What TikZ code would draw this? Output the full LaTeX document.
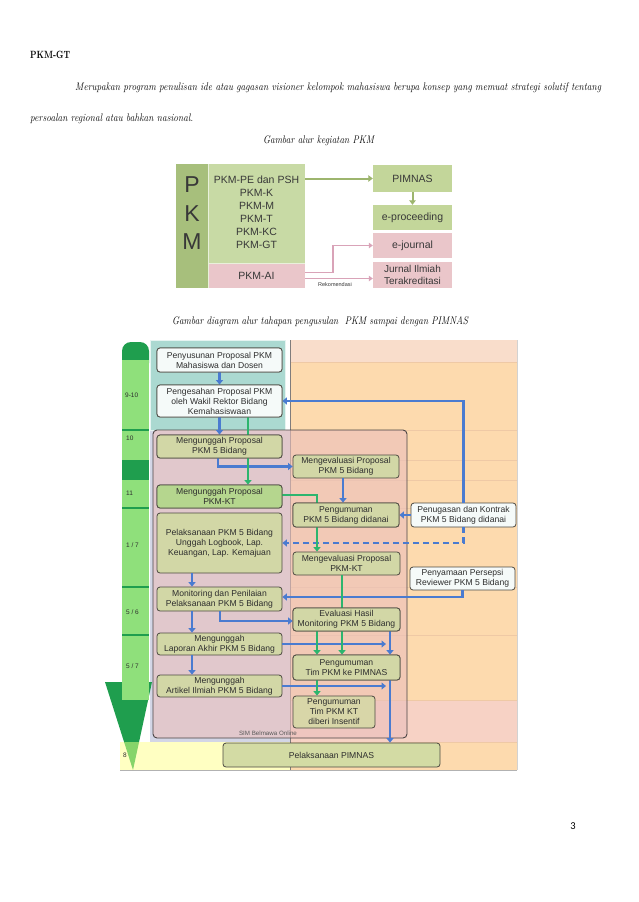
\documentclass[tikz,border=0pt]{standalone}
\usepackage{graphicx}
\usepackage{fontspec}
\newfontfamily\dfont{Liberation Sans}
\newfontfamily\pgfont{Carlito}
\usetikzlibrary{arrows.meta}
\definecolor{f1dark}{HTML}{A7BF7C}
\definecolor{f1light}{HTML}{C8DAA5}
\definecolor{f1pink}{HTML}{EAC6CA}
\definecolor{f1box}{HTML}{C3D69A}
\definecolor{f1arrow}{HTML}{9DB56E}
\definecolor{f1parrow}{HTML}{D9A3B8}
\definecolor{ftext}{HTML}{383838}
\definecolor{arrblue}{HTML}{4A7BD0}
\definecolor{arrgreen}{HTML}{2DB56E}
\definecolor{tangreen}{HTML}{D2D7A6}
\definecolor{brightgreen}{HTML}{B5D68E}
\definecolor{whitebox}{HTML}{F5FAF9}
\definecolor{nodeborder}{HTML}{4D4A42}
\definecolor{ltgreen}{HTML}{8FE07B}
\definecolor{dkgreen}{HTML}{1F9E4E}
\definecolor{midgreen}{HTML}{86D46A}
\definecolor{tealbg}{HTML}{ABD9D1}
\definecolor{lavbg}{HTML}{D3D6E6}
\definecolor{orangebg}{HTML}{FDDAAE}
\definecolor{salmonbg}{HTML}{F9DDCB}
\definecolor{pinkband}{HTML}{F7D2C5}
\definecolor{yellowbg}{HTML}{FFFFC2}
\definecolor{contfill}{HTML}{EBBFBC}
\definecolor{contborder}{HTML}{4A4444}
\definecolor{ntext}{HTML}{2E2E2E}
\definecolor{n16fill}{HTML}{D8D6A8}
\definecolor{n17fill}{HTML}{D3DBA4}
\definecolor{bandline}{HTML}{EFC9A5}
\tikzset{
  nbox/.style={draw=nodeborder, line width=0.8pt, rounded corners=3pt, inner sep=0pt,
    align=center, text=ntext, font=\dfont\fontsize{8.6}{10}\selectfont},
  wbox/.style={nbox, fill=whitebox},
  gbox/.style={nbox, fill=tangreen},
  barrow/.style={draw=arrblue, line width=2.2pt, -{Triangle[length=4.5pt,width=7pt]}},
  garrow/.style={draw=arrgreen, line width=2.2pt, -{Triangle[length=4.5pt,width=7pt]}},
  tlabel/.style={anchor=west, inner sep=0pt, text=ntext, font=\dfont\fontsize{6.5}{8}\selectfont},
  f1txt/.style={inner sep=0pt, text=ftext, align=center, font=\dfont\fontsize{10.5}{13}\selectfont},
  f1rbox/.style={f1txt, minimum width=79pt},
  f1garrow/.style={draw=f1arrow, line width=2pt, -{Triangle[length=4.5pt,width=6.5pt]}},
  f1parrow/.style={draw=f1parrow, line width=1.5pt, -{Triangle[length=4pt,width=5.5pt]}},
  bodytxt/.style={inner sep=0pt, anchor=base west, font=\fontsize{11}{13}\selectfont\itshape}
}
\begin{document}
\begin{tikzpicture}[x=1pt,y=-1pt]
\useasboundingbox (0,0) rectangle (638,902);
\fill[white] (0,0) rectangle (638,902);

% ---------------- text of the page
\node[inner sep=0pt, anchor=base west] (t0) at (30,59) {\resizebox{40pt}{\height}{\fontsize{10.5}{12}\selectfont\bfseries PKM-GT}};
\node[bodytxt] (t1) at (75,90) {\resizebox{526pt}{\height}{Merupakan program penulisan ide atau gagasan visioner kelompok mahasiswa berupa konsep yang memuat strategi solutif tentang}};
\node[bodytxt] (t2) at (30,121) {\resizebox{163pt}{\height}{persoalan regional atau bahkan nasional.}};
\node[bodytxt, anchor=base] (c1) at (318.5,143) {\resizebox{111pt}{\height}{Gambar alur kegiatan PKM}};
\node[bodytxt, anchor=base] (c2) at (320,324) {\resizebox{296pt}{\height}{Gambar diagram alur tahapan pengusulan\ \ PKM sampai dengan PIMNAS}};
\node[inner sep=0pt] (pg) at (573,826) {\pgfont\fontsize{10.5}{12}\selectfont 3};

% ---------------- figure 1
\node[fill=f1dark, minimum width=32pt, minimum height=124pt, inner sep=0pt] (fcol) at (192,226) {};
\node[fill=f1light, minimum width=97pt, minimum height=99pt, inner sep=0pt] (flistbox) at (256.5,213.5) {};
\node[fill=f1pink, minimum width=97pt, minimum height=25pt, inner sep=0pt, f1txt] (fai) at (256.5,275.5) {PKM-AI};
\draw[white!60!f1light, line width=0.7pt] (208,164) -- (208,288) (208,263) -- (305,263);
\node[f1txt, font=\dfont\fontsize{23}{24}\selectfont] (fP) at (192,185) {P};
\node[f1txt, font=\dfont\fontsize{23}{24}\selectfont] (fK) at (192,214) {K};
\node[f1txt, font=\dfont\fontsize{23}{24}\selectfont] (fM) at (192,242) {M};
\node[f1txt] (flist) at (256.5,212.5) {PKM-PE dan PSH\\PKM-K\\PKM-M\\PKM-T\\PKM-KC\\PKM-GT};
\node[f1rbox, fill=f1box, minimum height=27pt] (fpim) at (412.5,178.5) {PIMNAS};
\node[f1rbox, fill=f1box, minimum height=25pt] (fepr) at (412.5,217.5) {e-proceeding};
\node[f1rbox, fill=f1pink, minimum height=25pt] (fejn) at (412.5,245.5) {e-journal};
\node[f1rbox, fill=f1pink, minimum height=26pt, font=\dfont\fontsize{10}{11.5}\selectfont] (fjur) at (412.5,275) {Jurnal Ilmiah\\Terakreditasi};
\draw[f1garrow] (flistbox.east |- fpim.west) -- (fpim.west);
\draw[f1garrow] (fpim.south) -- (fepr.north);
\draw[f1parrow] ([yshift=3pt]fai.east) -| ([xshift=-40pt]fejn.west) -- (fejn.west);
\draw[f1parrow] ([yshift=-3pt]fai.east) -- ([yshift=-3pt]fai.east -| fjur.west);
\node[inner sep=0pt, text=ftext, font=\dfont\fontsize{5.5}{6}\selectfont] (frek) at (335,284.5) {Rekomendasi};

% ---------------- figure 2 backgrounds
\fill[orangebg] (290,340) rectangle (517,770);
\fill[salmonbg] (290,340) rectangle (517,362);
\fill[pinkband] (290,700) rectangle (517,742);
\foreach \yy in {362,430,460,480,508,587,635,700,742}
  \draw[bandline, line width=0.5pt] (290,\yy) -- (517,\yy);
\fill[lavbg] (150,430) rectangle (290,742);
\fill[tealbg] (150,340) rectangle (285,430);
\draw[white!70!tealbg, line width=0.6pt] (150,340) rectangle (285,430);
\fill[yellowbg] (120,742) rectangle (290,770);
\draw[contborder!70, line width=0.7pt] (290,340) -- (290,770);
\draw[gray!60, line width=0.6pt] (120,770) -- (517,770);
\draw[gray!35, line width=0.6pt] (517,340) -- (517,770);

% timeline
\begin{scope}
  \clip (0,600) rectangle (300,742);
  \fill[dkgreen] (105,682) -- (152,682) -- (133,770) -- cycle;
\end{scope}
\begin{scope}
  \clip (0,742) rectangle (300,780);
  \fill[midgreen] (105,682) -- (152,682) -- (133,770) -- cycle;
\end{scope}
\fill[dkgreen, rounded corners=9pt] (122,372) -- (122,342) -- (149,342) -- (149,372) -- cycle;
\fill[ltgreen] (122,360) rectangle (149,700);
\fill[dkgreen] (122,460) rectangle (149,480);
\foreach \yy in {430,508,587,635}
  \draw[dkgreen, line width=2pt] (122,\yy) -- (149,\yy);
\node[tlabel] (l1) at (125,395) {9-10};
\node[tlabel] (l2) at (126,438) {10};
\node[tlabel] (l3) at (126,493) {11};
\node[tlabel] (l4) at (126,545) {1 / 7};
\node[tlabel] (l5) at (126,612) {5 / 6};
\node[tlabel] (l6) at (126,666) {5 / 7};
\node[tlabel] (l7) at (123,755) {8};

% container
\node[draw=contborder, line width=0.9pt, fill=contfill, fill opacity=0.6, draw opacity=1,
      rounded corners=4pt, minimum width=254pt, minimum height=308pt, inner sep=0pt] (cont) at (280,584) {};
\node[inner sep=0pt, text=gray!70!black, font=\dfont\fontsize{6.2}{7}\selectfont] (sim) at (268,733) {SIM Belmawa Online};

% coordinates for free ends
\coordinate (b1) at (386,0);

% ---------------- nodes
\path
  node[wbox, minimum width=125pt, minimum height=24pt] (n1) at (219.5,360) {Penyusunan Proposal PKM\\Mahasiswa dan Dosen}
  node[wbox, minimum width=125pt, minimum height=32pt] (n2) at (219.5,401) {Pengesahan Proposal PKM\\oleh Wakil Rektor Bidang\\Kemahasiswaan}
  node[gbox, minimum width=125pt, minimum height=23pt] (n3) at (219.5,446.5) {Mengunggah Proposal\\PKM 5 Bidang}
  node[gbox, minimum width=106pt, minimum height=23pt] (n4) at (346,466.5) {Mengevaluasi Proposal\\PKM 5 Bidang}
  node[nbox, fill=brightgreen, minimum width=125pt, minimum height=23pt] (n5) at (219.5,496.5) {Mengunggah Proposal\\PKM-KT}
  node[gbox, minimum width=106pt, minimum height=24pt] (n6) at (346,515) {Pengumuman\\PKM 5 Bidang didanai}
  node[wbox, minimum width=105pt, minimum height=24pt] (n7) at (463.5,515) {Penugasan dan Kontrak\\PKM 5 Bidang didanai}
  node[gbox, minimum width=125pt, minimum height=60pt] (n8) at (219.5,543) {Pelaksanaan PKM 5 Bidang\\Unggah Logbook, Lap.\\Keuangan, Lap. Kemajuan}
  node[gbox, minimum width=107pt, minimum height=23pt] (n9) at (346.5,563.5) {Mengevaluasi Proposal\\PKM-KT}
  node[wbox, minimum width=105pt, minimum height=23pt] (n10) at (462.5,578.5) {Penyamaan Persepsi\\Reviewer PKM 5 Bidang}
  node[gbox, minimum width=125pt, minimum height=24pt] (n11) at (219.5,599) {Monitoring dan Penilaian\\Pelaksanaan PKM 5 Bidang}
  node[gbox, minimum width=107pt, minimum height=23pt] (n12) at (346.5,619.5) {Evaluasi Hasil\\Monitoring PKM 5 Bidang}
  node[gbox, minimum width=125pt, minimum height=22pt] (n13) at (219.5,644) {Mengunggah\\Laporan Akhir PKM 5 Bidang}
  node[gbox, minimum width=107pt, minimum height=25pt] (n14) at (346.5,667.5) {Pengumuman\\Tim PKM ke PIMNAS}
  node[gbox, minimum width=125pt, minimum height=22pt] (n15) at (219.5,686) {Mengunggah\\Artikel Ilmiah PKM 5 Bidang}
  node[nbox, fill=n16fill, minimum width=82pt, minimum height=32pt] (n16) at (334,712) {Pengumuman\\Tim PKM KT\\diberi Insentif}
  node[nbox, fill=n17fill, minimum width=217pt, minimum height=24pt] (n17) at (331.5,755) {Pelaksanaan PIMNAS};

% ---------------- blue connectors
\draw[barrow] (n1.south) -- (n2.north);
\draw[barrow] (n2.south) -- (n3.north);
\draw[barrow] ([xshift=-1.5pt]n3.south) |- (n4.west);
\draw[barrow] ([xshift=-3pt]n4.south) -- ([xshift=-3pt]n6.north);
\draw[barrow] (n7.west) -- (n6.east);
\draw[barrow] (n7.north) |- (n2.east);
\draw[barrow, dashed, dash pattern=on 6pt off 4pt] (n7.south) |- (n8.east);
\draw[barrow] ([xshift=-27.5pt]n8.south) -- ([xshift=-27.5pt]n11.north);
\draw[barrow] (n10.south) |- ([yshift=2pt]n11.east);
\draw[barrow] ([xshift=0.5pt]n11.south) |- ([yshift=-1.5pt]n12.west);
\draw[barrow] ([xshift=-27.5pt]n11.south) -- ([xshift=-27.5pt]n13.north);
\draw[barrow] ([xshift=-27.5pt]n13.south) -- ([xshift=-27.5pt]n15.north);
\draw[barrow] ([xshift=43.5pt]n12.south) -- ([xshift=43.5pt]n14.north);
\draw[barrow] (n13.east) -- (n13.east -| b1);
\draw[barrow] (n15.east) -- (n15.east -| b1);
\draw[barrow] ([xshift=43.5pt]n14.south) -- ([xshift=43.5pt]n14.south |- n17.north);

% ---------------- green connectors
\draw[garrow] ([xshift=28.5pt]n2.south) -- ([xshift=28.5pt]n5.north);
\draw[garrow] ([yshift=1.5pt]n5.east) -| ([xshift=-29.5pt]n9.north);
\draw[garrow] ([xshift=-4.5pt]n9.south) -- ([xshift=-4.5pt]n14.north);
\draw[garrow] ([xshift=-29.5pt]n12.south) -- ([xshift=-29.5pt]n14.north);
\draw[garrow] ([xshift=-29.5pt]n14.south) -- ([xshift=-29.5pt]n14.south |- n16.north);

% ---------------- redraw nodes crossed by connectors
\path
  node[wbox, minimum width=125pt, minimum height=24pt] at (n1) {Penyusunan Proposal PKM\\Mahasiswa dan Dosen}
  node[wbox, minimum width=125pt, minimum height=32pt] at (n2) {Pengesahan Proposal PKM\\oleh Wakil Rektor Bidang\\Kemahasiswaan}
  node[gbox, minimum width=125pt, minimum height=23pt] at (n3) {Mengunggah Proposal\\PKM 5 Bidang}
  node[nbox, fill=brightgreen, minimum width=125pt, minimum height=23pt] at (n5) {Mengunggah Proposal\\PKM-KT}
  node[gbox, minimum width=106pt, minimum height=24pt] at (n6) {Pengumuman\\PKM 5 Bidang didanai}
  node[gbox, minimum width=107pt, minimum height=23pt] at (n12) {Evaluasi Hasil\\Monitoring PKM 5 Bidang}
  node[gbox, minimum width=107pt, minimum height=25pt] at (n14) {Pengumuman\\Tim PKM ke PIMNAS};
\end{tikzpicture}
\end{document}
